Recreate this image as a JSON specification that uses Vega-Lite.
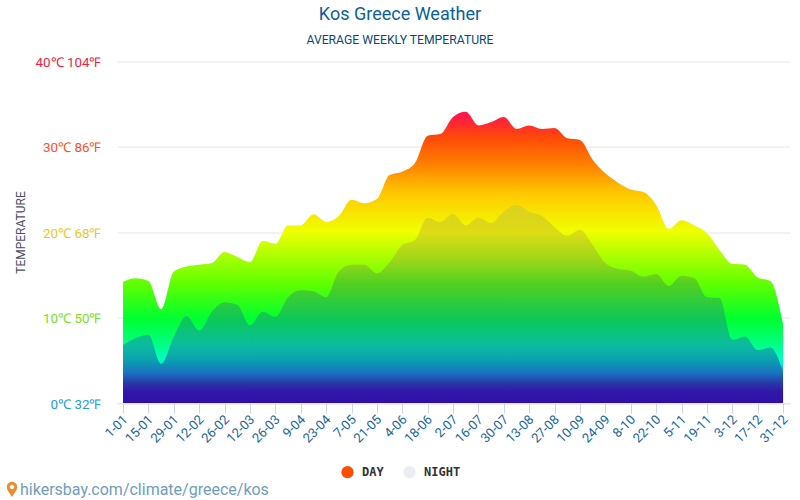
{"$schema":"https://vega.github.io/schema/vega-lite/v6.json","width":673,"height":341.5,"autosize":{"type":"none"},"padding":{"left":117,"top":61.5,"right":10,"bottom":97},"background":"#ffffff",
"title":{"text":"Kos Greece Weather","subtitle":"AVERAGE WEEKLY TEMPERATURE","anchor":"middle","dx":-53.5,"offset":9,"font":"Roboto","fontSize":18,"fontWeight":"normal","color":"#0b5f9e","subtitleFont":"Roboto","subtitleFontSize":12.2,"subtitleColor":"#0a4a7a","subtitlePadding":10},
"config":{"view":{"stroke":null}},
"data":{"values":[
{"date":"2023-01-01","day":14.2,"night":6.8},{"date":"2023-01-08","day":14.6,"night":7.6},{"date":"2023-01-15","day":14.3,"night":8.0},{"date":"2023-01-22","day":11.0,"night":4.6},{"date":"2023-01-29","day":15.4,"night":7.8},{"date":"2023-02-05","day":16.0,"night":10.2},{"date":"2023-02-12","day":16.2,"night":8.5},{"date":"2023-02-19","day":16.4,"night":10.7},{"date":"2023-02-26","day":17.7,"night":11.8},{"date":"2023-03-05","day":17.1,"night":11.5},{"date":"2023-03-12","day":16.5,"night":9.1},{"date":"2023-03-19","day":19.0,"night":10.7},{"date":"2023-03-26","day":18.65,"night":10.1},{"date":"2023-04-02","day":20.8,"night":12.4},{"date":"2023-04-09","day":20.8,"night":13.2},{"date":"2023-04-16","day":22.1,"night":13.1},{"date":"2023-04-23","day":21.2,"night":12.4},{"date":"2023-04-30","day":21.9,"night":15.4},{"date":"2023-05-07","day":23.8,"night":16.2},{"date":"2023-05-14","day":23.4,"night":16.2},{"date":"2023-05-21","day":23.9,"night":15.2},{"date":"2023-05-28","day":26.7,"night":16.5},{"date":"2023-06-04","day":27.1,"night":18.5},{"date":"2023-06-11","day":28.1,"night":19.1},{"date":"2023-06-18","day":31.3,"night":21.7},{"date":"2023-06-25","day":31.5,"night":21.2},{"date":"2023-07-02","day":33.5,"night":22.1},{"date":"2023-07-09","day":34.1,"night":20.8},{"date":"2023-07-16","day":32.5,"night":21.7},{"date":"2023-07-23","day":32.9,"night":21.1},{"date":"2023-07-30","day":33.5,"night":22.4},{"date":"2023-08-06","day":32.1,"night":23.2},{"date":"2023-08-13","day":32.5,"night":22.4},{"date":"2023-08-20","day":32.1,"night":21.9},{"date":"2023-08-27","day":32.2,"night":20.6},{"date":"2023-09-03","day":31.0,"night":19.6},{"date":"2023-09-10","day":30.8,"night":20.3},{"date":"2023-09-17","day":28.5,"night":18.5},{"date":"2023-09-24","day":26.9,"night":16.4},{"date":"2023-10-01","day":25.8,"night":15.7},{"date":"2023-10-08","day":25.0,"night":15.5},{"date":"2023-10-15","day":24.7,"night":14.8},{"date":"2023-10-22","day":23.2,"night":15.1},{"date":"2023-10-29","day":20.4,"night":13.7},{"date":"2023-11-05","day":21.4,"night":14.9},{"date":"2023-11-12","day":20.8,"night":14.6},{"date":"2023-11-19","day":19.9,"night":12.4},{"date":"2023-11-26","day":17.9,"night":12.3},{"date":"2023-12-03","day":16.3,"night":7.4},{"date":"2023-12-10","day":16.2,"night":7.8},{"date":"2023-12-17","day":14.7,"night":6.2},{"date":"2023-12-24","day":14.3,"night":6.5},{"date":"2023-12-31","day":9.3,"night":3.7}
]},
"encoding":{"x":{"field":"date","type":"temporal","title":null,"scale":{"type":"utc","domain":[{"year":2022,"month":12,"date":28,"hours":16,"utc":true},{"year":2024,"month":1,"date":3,"hours":20,"utc":true}],"nice":false},
"axis":{"values":["2023-01-01","2023-01-15","2023-01-29","2023-02-12","2023-02-26","2023-03-12","2023-03-26","2023-04-09","2023-04-23","2023-05-07","2023-05-21","2023-06-04","2023-06-18","2023-07-02","2023-07-16","2023-07-30","2023-08-13","2023-08-27","2023-09-10","2023-09-24","2023-10-08","2023-10-22","2023-11-05","2023-11-19","2023-12-03","2023-12-17","2023-12-31"],"format":"%-d-%m","labelAngle":-45,"labelAlign":"right","labelBaseline":"middle","labelFont":"Roboto","labelFontSize":13,"labelColor":"#15659f","labelOverlap":false,"labelPadding":4,"labelOffset":2,"tickColor":"#ccd6eb","tickSize":10,"domainColor":"#e6e6e6","grid":false}}},
"layer":[
{"mark":{"type":"area","interpolate":"monotone","stroke":null,"color":{"gradient":"linear","x1":0,"y1":1,"x2":0,"y2":0,"stops":[{"offset":0,"color":"#3010a8"},{"offset":0.04,"color":"#3018a8"},{"offset":0.07,"color":"#2838a8"},{"offset":0.10,"color":"#1a80c8"},{"offset":0.13,"color":"#00f0c8"},{"offset":0.15,"color":"#00ffc0"},{"offset":0.22,"color":"#00ff70"},{"offset":0.29,"color":"#00ff30"},{"offset":0.41,"color":"#60ff00"},{"offset":0.59,"color":"#f0ff00"},{"offset":0.72,"color":"#ffc800"},{"offset":0.82,"color":"#ff8000"},{"offset":0.91,"color":"#ff4a08"},{"offset":1,"color":"#ff1050"}]}},
"encoding":{"y":{"field":"day","type":"quantitative","title":"TEMPERATURE","scale":{"domain":[0,40],"nice":false},
"axis":{"values":[0,10,20,30,40],"labelExpr":"datum.value+'℃ '+(datum.value*1.8+32)+'℉'","labelFont":"Roboto","labelFontSize":13.4,"labelPadding":16,"labelOffset":1,"ticks":false,"domain":false,"grid":true,"gridColor":"#e6e6e6","labelColor":{"condition":[{"test":"datum.value==40","value":"#f5213f"},{"test":"datum.value==30","value":"#ff5020"},{"test":"datum.value==20","value":"#ecc820"},{"test":"datum.value==10","value":"#7ae020"}],"value":"#20a0e8"},"titleFont":"Roboto","titleFontSize":12,"titleFontWeight":"normal","titleColor":"#4a4f6a","titleX":-90,"titleY":170.5}}}},
{"mark":{"type":"area","interpolate":"monotone","stroke":null,"color":{"gradient":"linear","x1":0,"y1":1,"x2":0,"y2":0,"stops":[{"offset":0,"color":"#3010a8"},{"offset":0.06,"color":"#3018a8"},{"offset":0.10,"color":"#2838a8"},{"offset":0.15,"color":"#1a70c0"},{"offset":0.215,"color":"#0aa0b0"},{"offset":0.29,"color":"#0abca0"},{"offset":0.42,"color":"#0cc858"},{"offset":0.60,"color":"#50d020"},{"offset":0.73,"color":"#a0d818"},{"offset":0.86,"color":"#dcdc15"},{"offset":1,"color":"#dcd020"}]}},
"encoding":{"y":{"field":"night","type":"quantitative"}}},
{"data":{"values":[{"series":"DAY"},{"series":"NIGHT"}]},"mark":{"type":"point","filled":true,"opacity":0},"encoding":{"x":{"value":0},"y":{"value":0},"color":{"field":"series","type":"nominal","scale":{"domain":["DAY","NIGHT"],"range":["#ff4d00","#e9eef3"]},"legend":{"title":null,"orient":"none","legendX":224,"legendY":404,"direction":"horizontal","columns":2,"padding":0,"symbolType":"circle","symbolSize":150,"symbolOpacity":1,"symbolStrokeWidth":0,"labelFont":"DejaVu Sans Mono","labelFontSize":12,"labelFontWeight":"bold","labelColor":"#333333","labelOffset":8,"columnPadding":19}}}},
{"data":{"values":[{"site":"hikersbay.com/climate/greece/kos"}]},"mark":{"type":"point","filled":true,"opacity":0,"color":"#f08a30"},"encoding":{"x":{"value":0},"y":{"value":0},"shape":{"field":"site","type":"nominal","scale":{"range":["M0,1 C-0.3,0.5 -0.7,0.1 -0.7,-0.35 A0.7,0.7 0 1 1 0.7,-0.35 C0.7,0.1 0.3,0.5 0,1 Z M0,-0.65 A0.3,0.3 0 1 0 0,-0.05 A0.3,0.3 0 1 0 0,-0.65 Z"]},"legend":{"title":null,"orient":"none","legendX":-113,"legendY":420,"padding":0,"symbolSize":220,"symbolOpacity":1,"symbolStrokeWidth":0,"labelFont":"Roboto","labelFontSize":16,"labelColor":"#6f9dbd","labelOffset":0,"labelLimit":320}}}}
]}
